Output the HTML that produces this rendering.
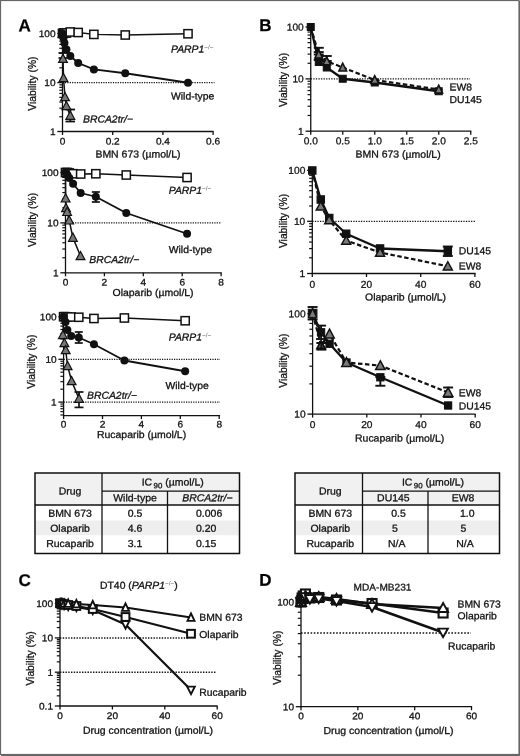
<!DOCTYPE html>
<html><head><meta charset="utf-8"><title>Figure</title>
<style>html,body{margin:0;padding:0;background:#fff}svg{display:block}</style></head>
<body>
<svg width="520" height="756" viewBox="0 0 520 756" font-family="Liberation Sans, sans-serif">
<style>text{stroke:#111;stroke-width:.28px}</style>
<rect x="0" y="0" width="520" height="756" fill="#fff"/>
<rect x="0.5" y="0.5" width="518.5" height="754" fill="none" stroke="#666" stroke-width="1.2"/>
<rect x="519" y="1" width="1.5" height="755" fill="#666"/>
<rect x="1" y="754.2" width="519" height="2" fill="#666"/>
<text transform="translate(18.6,31.2) rotate(.03)" font-size="17" font-weight="bold" fill="#000" >A</text>
<text transform="translate(259.2,31) rotate(.03)" font-size="17" font-weight="bold" fill="#000" >B</text>
<text transform="translate(18.4,586) rotate(.03)" font-size="17" font-weight="bold" fill="#000" >C</text>
<text transform="translate(259.2,585.7) rotate(.03)" font-size="17" font-weight="bold" fill="#000" >D</text>
<line x1="62.50" y1="82.60" x2="214.50" y2="82.60" stroke="#111" stroke-width="1.2" stroke-dasharray="1.2 1.2" stroke-linecap="butt"/>
<line x1="62.50" y1="32.90" x2="62.50" y2="132.10" stroke="#111" stroke-width="1.3" stroke-linecap="butt"/>
<line x1="61.90" y1="131.50" x2="213.60" y2="131.50" stroke="#111" stroke-width="1.3" stroke-linecap="butt"/>
<line x1="57.30" y1="33.50" x2="62.50" y2="33.50" stroke="#111" stroke-width="1.3" stroke-linecap="butt"/>
<text transform="translate(55.50,36.95) rotate(.03) scale(1.05,1)" font-size="9.6" text-anchor="end" fill="#111">100</text>
<line x1="57.30" y1="82.60" x2="62.50" y2="82.60" stroke="#111" stroke-width="1.3" stroke-linecap="butt"/>
<text transform="translate(55.50,86.05) rotate(.03) scale(1.05,1)" font-size="9.6" text-anchor="end" fill="#111">10</text>
<line x1="57.30" y1="131.50" x2="62.50" y2="131.50" stroke="#111" stroke-width="1.3" stroke-linecap="butt"/>
<text transform="translate(55.50,134.95) rotate(.03) scale(1.05,1)" font-size="9.6" text-anchor="end" fill="#111">1</text>
<line x1="59.30" y1="67.82" x2="62.50" y2="67.82" stroke="#111" stroke-width="1.2" stroke-linecap="butt"/>
<line x1="59.30" y1="59.17" x2="62.50" y2="59.17" stroke="#111" stroke-width="1.2" stroke-linecap="butt"/>
<line x1="59.30" y1="53.04" x2="62.50" y2="53.04" stroke="#111" stroke-width="1.2" stroke-linecap="butt"/>
<line x1="59.30" y1="48.28" x2="62.50" y2="48.28" stroke="#111" stroke-width="1.2" stroke-linecap="butt"/>
<line x1="59.30" y1="44.39" x2="62.50" y2="44.39" stroke="#111" stroke-width="1.2" stroke-linecap="butt"/>
<line x1="59.30" y1="41.11" x2="62.50" y2="41.11" stroke="#111" stroke-width="1.2" stroke-linecap="butt"/>
<line x1="59.30" y1="38.26" x2="62.50" y2="38.26" stroke="#111" stroke-width="1.2" stroke-linecap="butt"/>
<line x1="59.30" y1="35.75" x2="62.50" y2="35.75" stroke="#111" stroke-width="1.2" stroke-linecap="butt"/>
<line x1="59.30" y1="116.78" x2="62.50" y2="116.78" stroke="#111" stroke-width="1.2" stroke-linecap="butt"/>
<line x1="59.30" y1="108.17" x2="62.50" y2="108.17" stroke="#111" stroke-width="1.2" stroke-linecap="butt"/>
<line x1="59.30" y1="102.06" x2="62.50" y2="102.06" stroke="#111" stroke-width="1.2" stroke-linecap="butt"/>
<line x1="59.30" y1="97.32" x2="62.50" y2="97.32" stroke="#111" stroke-width="1.2" stroke-linecap="butt"/>
<line x1="59.30" y1="93.45" x2="62.50" y2="93.45" stroke="#111" stroke-width="1.2" stroke-linecap="butt"/>
<line x1="59.30" y1="90.17" x2="62.50" y2="90.17" stroke="#111" stroke-width="1.2" stroke-linecap="butt"/>
<line x1="59.30" y1="87.34" x2="62.50" y2="87.34" stroke="#111" stroke-width="1.2" stroke-linecap="butt"/>
<line x1="59.30" y1="84.84" x2="62.50" y2="84.84" stroke="#111" stroke-width="1.2" stroke-linecap="butt"/>
<line x1="62.50" y1="131.50" x2="62.50" y2="135.00" stroke="#111" stroke-width="1.3" stroke-linecap="butt"/>
<text transform="translate(62.50,144.40) rotate(.03) scale(1.05,1)" font-size="9.6" text-anchor="middle" fill="#111">0</text>
<line x1="112.70" y1="131.50" x2="112.70" y2="135.00" stroke="#111" stroke-width="1.3" stroke-linecap="butt"/>
<text transform="translate(112.70,144.40) rotate(.03) scale(1.05,1)" font-size="9.6" text-anchor="middle" fill="#111">0.2</text>
<line x1="162.90" y1="131.50" x2="162.90" y2="135.00" stroke="#111" stroke-width="1.3" stroke-linecap="butt"/>
<text transform="translate(162.90,144.40) rotate(.03) scale(1.05,1)" font-size="9.6" text-anchor="middle" fill="#111">0.4</text>
<line x1="213.10" y1="131.50" x2="213.10" y2="135.00" stroke="#111" stroke-width="1.3" stroke-linecap="butt"/>
<text transform="translate(213.10,144.40) rotate(.03) scale(1.05,1)" font-size="9.6" text-anchor="middle" fill="#111">0.6</text>
<text transform="translate(36,83.6) rotate(-90)" font-size="10.3" text-anchor="middle" fill="#111">Viability (%)</text>
<text transform="translate(138,157.5) rotate(.03) scale(1.035,1)" font-size="10.14" text-anchor="middle" fill="#111" >BMN 673 (µmol/L)</text>
<polyline points="62.50,33.50 63.48,33.00 64.46,33.00 66.42,33.00 70.34,32.00 78.19,32.50 93.88,34.40 125.25,35.00 188.00,33.75" fill="none" stroke="#111" stroke-width="1.4" stroke-linejoin="round"/>
<polyline points="62.50,33.50 63.48,38.00 64.46,43.00 66.42,49.50 70.34,56.00 78.19,63.00 93.88,69.40 125.25,73.25 188.00,82.75" fill="none" stroke="#111" stroke-width="1.8" stroke-linejoin="round"/>
<polyline points="62.50,33.50 63.00,58.75 63.50,78.00 65.00,97.00 66.40,106.00 70.30,115.60" fill="none" stroke="#111" stroke-width="1.5" stroke-linejoin="round"/>
<line x1="63.00" y1="53.00" x2="63.00" y2="58.00" stroke="#111" stroke-width="1.7" stroke-linecap="butt"/>
<line x1="58.50" y1="53.00" x2="67.50" y2="53.00" stroke="#111" stroke-width="1.7" stroke-linecap="butt"/>
<line x1="58.50" y1="58.00" x2="67.50" y2="58.00" stroke="#111" stroke-width="1.7" stroke-linecap="butt"/>
<line x1="70.30" y1="109.50" x2="70.30" y2="121.50" stroke="#111" stroke-width="1.8" stroke-linecap="butt"/>
<line x1="65.55" y1="109.50" x2="75.05" y2="109.50" stroke="#111" stroke-width="1.8" stroke-linecap="butt"/>
<line x1="65.55" y1="121.50" x2="75.05" y2="121.50" stroke="#111" stroke-width="1.8" stroke-linecap="butt"/>
<polygon points="62.50,28.99 58.10,37.19 66.90,37.19" fill="#777" stroke="#111" stroke-width="1.2" stroke-linejoin="miter"/>
<polygon points="63.00,54.24 58.60,62.44 67.40,62.44" fill="#777" stroke="#111" stroke-width="1.2" stroke-linejoin="miter"/>
<polygon points="63.50,73.49 59.10,81.69 67.90,81.69" fill="#777" stroke="#111" stroke-width="1.2" stroke-linejoin="miter"/>
<polygon points="65.00,92.49 60.60,100.69 69.40,100.69" fill="#777" stroke="#111" stroke-width="1.2" stroke-linejoin="miter"/>
<polygon points="66.40,101.49 62.00,109.69 70.80,109.69" fill="#777" stroke="#111" stroke-width="1.2" stroke-linejoin="miter"/>
<polygon points="70.30,111.09 65.90,119.29 74.70,119.29" fill="#777" stroke="#111" stroke-width="1.2" stroke-linejoin="miter"/>
<rect x="58.40" y="29.40" width="8.2" height="8.2" fill="#fff" stroke="#111" stroke-width="1.5"/>
<rect x="59.38" y="28.90" width="8.2" height="8.2" fill="#fff" stroke="#111" stroke-width="1.5"/>
<rect x="60.36" y="28.90" width="8.2" height="8.2" fill="#fff" stroke="#111" stroke-width="1.5"/>
<rect x="62.32" y="28.90" width="8.2" height="8.2" fill="#fff" stroke="#111" stroke-width="1.5"/>
<rect x="66.24" y="27.90" width="8.2" height="8.2" fill="#fff" stroke="#111" stroke-width="1.5"/>
<rect x="74.09" y="28.40" width="8.2" height="8.2" fill="#fff" stroke="#111" stroke-width="1.5"/>
<rect x="89.78" y="30.30" width="8.2" height="8.2" fill="#fff" stroke="#111" stroke-width="1.5"/>
<rect x="121.15" y="30.90" width="8.2" height="8.2" fill="#fff" stroke="#111" stroke-width="1.5"/>
<rect x="183.90" y="29.65" width="8.2" height="8.2" fill="#fff" stroke="#111" stroke-width="1.5"/>
<circle cx="62.50" cy="33.50" r="4" fill="#111"/>
<circle cx="63.48" cy="38.00" r="4" fill="#111"/>
<circle cx="64.46" cy="43.00" r="4" fill="#111"/>
<circle cx="66.42" cy="49.50" r="4" fill="#111"/>
<circle cx="70.34" cy="56.00" r="4" fill="#111"/>
<circle cx="78.19" cy="63.00" r="4" fill="#111"/>
<circle cx="93.88" cy="69.40" r="4" fill="#111"/>
<circle cx="125.25" cy="73.25" r="4" fill="#111"/>
<circle cx="188.00" cy="82.75" r="4" fill="#111"/>
<text transform="translate(171,52.5) rotate(.03) scale(1.035,1)" font-size="10.05" fill="#111" text-anchor="start"><tspan font-style="italic">PARP1</tspan><tspan font-size="6.2" dy="-3.3" fill="#666" stroke="none">−/−</tspan><tspan dy="3.3"></tspan></text>
<text transform="translate(171,99.5) rotate(.03) scale(1.035,1)" font-size="10.05" fill="#111" >Wild-type</text>
<text transform="translate(83,122.5) rotate(.03) scale(1.035,1)" font-size="10.05" font-style="italic" fill="#111" >BRCA2tr/−</text>
<line x1="65.50" y1="222.90" x2="220.50" y2="222.90" stroke="#111" stroke-width="1.2" stroke-dasharray="1.2 1.2" stroke-linecap="butt"/>
<line x1="65.50" y1="171.90" x2="65.50" y2="273.40" stroke="#111" stroke-width="1.3" stroke-linecap="butt"/>
<line x1="64.90" y1="272.80" x2="221.70" y2="272.80" stroke="#111" stroke-width="1.3" stroke-linecap="butt"/>
<line x1="60.30" y1="172.50" x2="65.50" y2="172.50" stroke="#111" stroke-width="1.3" stroke-linecap="butt"/>
<text transform="translate(58.50,175.95) rotate(.03) scale(1.05,1)" font-size="9.6" text-anchor="end" fill="#111">100</text>
<line x1="60.30" y1="222.90" x2="65.50" y2="222.90" stroke="#111" stroke-width="1.3" stroke-linecap="butt"/>
<text transform="translate(58.50,226.35) rotate(.03) scale(1.05,1)" font-size="9.6" text-anchor="end" fill="#111">10</text>
<line x1="60.30" y1="272.80" x2="65.50" y2="272.80" stroke="#111" stroke-width="1.3" stroke-linecap="butt"/>
<text transform="translate(58.50,276.25) rotate(.03) scale(1.05,1)" font-size="9.6" text-anchor="end" fill="#111">1</text>
<line x1="62.30" y1="207.73" x2="65.50" y2="207.73" stroke="#111" stroke-width="1.2" stroke-linecap="butt"/>
<line x1="62.30" y1="198.85" x2="65.50" y2="198.85" stroke="#111" stroke-width="1.2" stroke-linecap="butt"/>
<line x1="62.30" y1="192.56" x2="65.50" y2="192.56" stroke="#111" stroke-width="1.2" stroke-linecap="butt"/>
<line x1="62.30" y1="187.67" x2="65.50" y2="187.67" stroke="#111" stroke-width="1.2" stroke-linecap="butt"/>
<line x1="62.30" y1="183.68" x2="65.50" y2="183.68" stroke="#111" stroke-width="1.2" stroke-linecap="butt"/>
<line x1="62.30" y1="180.31" x2="65.50" y2="180.31" stroke="#111" stroke-width="1.2" stroke-linecap="butt"/>
<line x1="62.30" y1="177.38" x2="65.50" y2="177.38" stroke="#111" stroke-width="1.2" stroke-linecap="butt"/>
<line x1="62.30" y1="174.81" x2="65.50" y2="174.81" stroke="#111" stroke-width="1.2" stroke-linecap="butt"/>
<line x1="62.30" y1="257.78" x2="65.50" y2="257.78" stroke="#111" stroke-width="1.2" stroke-linecap="butt"/>
<line x1="62.30" y1="248.99" x2="65.50" y2="248.99" stroke="#111" stroke-width="1.2" stroke-linecap="butt"/>
<line x1="62.30" y1="242.76" x2="65.50" y2="242.76" stroke="#111" stroke-width="1.2" stroke-linecap="butt"/>
<line x1="62.30" y1="237.92" x2="65.50" y2="237.92" stroke="#111" stroke-width="1.2" stroke-linecap="butt"/>
<line x1="62.30" y1="233.97" x2="65.50" y2="233.97" stroke="#111" stroke-width="1.2" stroke-linecap="butt"/>
<line x1="62.30" y1="230.63" x2="65.50" y2="230.63" stroke="#111" stroke-width="1.2" stroke-linecap="butt"/>
<line x1="62.30" y1="227.74" x2="65.50" y2="227.74" stroke="#111" stroke-width="1.2" stroke-linecap="butt"/>
<line x1="62.30" y1="225.18" x2="65.50" y2="225.18" stroke="#111" stroke-width="1.2" stroke-linecap="butt"/>
<line x1="65.50" y1="272.80" x2="65.50" y2="276.30" stroke="#111" stroke-width="1.3" stroke-linecap="butt"/>
<text transform="translate(65.50,285.40) rotate(.03) scale(1.05,1)" font-size="9.6" text-anchor="middle" fill="#111">0</text>
<line x1="104.40" y1="272.80" x2="104.40" y2="276.30" stroke="#111" stroke-width="1.3" stroke-linecap="butt"/>
<text transform="translate(104.40,285.40) rotate(.03) scale(1.05,1)" font-size="9.6" text-anchor="middle" fill="#111">2</text>
<line x1="143.30" y1="272.80" x2="143.30" y2="276.30" stroke="#111" stroke-width="1.3" stroke-linecap="butt"/>
<text transform="translate(143.30,285.40) rotate(.03) scale(1.05,1)" font-size="9.6" text-anchor="middle" fill="#111">4</text>
<line x1="182.20" y1="272.80" x2="182.20" y2="276.30" stroke="#111" stroke-width="1.3" stroke-linecap="butt"/>
<text transform="translate(182.20,285.40) rotate(.03) scale(1.05,1)" font-size="9.6" text-anchor="middle" fill="#111">6</text>
<line x1="221.10" y1="272.80" x2="221.10" y2="276.30" stroke="#111" stroke-width="1.3" stroke-linecap="butt"/>
<text transform="translate(221.10,285.40) rotate(.03) scale(1.05,1)" font-size="9.6" text-anchor="middle" fill="#111">8</text>
<text transform="translate(35.5,220) rotate(-90)" font-size="10.3" text-anchor="middle" fill="#111">Viability (%)</text>
<text transform="translate(112.5,296) rotate(.03) scale(1.035,1)" font-size="10.14" fill="#111" >Olaparib (µmol/L)</text>
<polyline points="65.50,172.50 67.40,172.50 69.29,173.00 73.09,173.75 80.67,174.00 95.84,173.75 126.28,175.00 187.06,177.50" fill="none" stroke="#111" stroke-width="1.4" stroke-linejoin="round"/>
<polyline points="65.50,172.50 67.40,175.00 69.29,178.00 73.09,183.75 80.67,193.00 95.84,196.75 126.28,213.00 187.06,233.75" fill="none" stroke="#111" stroke-width="1.8" stroke-linejoin="round"/>
<polyline points="65.50,172.50 65.60,198.30 66.00,208.00 67.10,211.80 69.20,220.30 72.90,237.60 80.50,256.00" fill="none" stroke="#111" stroke-width="1.5" stroke-linejoin="round"/>
<line x1="95.84" y1="192.00" x2="95.84" y2="202.00" stroke="#111" stroke-width="1.7" stroke-linecap="butt"/>
<line x1="91.84" y1="192.00" x2="99.84" y2="192.00" stroke="#111" stroke-width="1.7" stroke-linecap="butt"/>
<line x1="91.84" y1="202.00" x2="99.84" y2="202.00" stroke="#111" stroke-width="1.7" stroke-linecap="butt"/>
<polygon points="65.60,193.79 61.20,201.99 70.00,201.99" fill="#777" stroke="#111" stroke-width="1.2" stroke-linejoin="miter"/>
<polygon points="66.00,203.49 61.60,211.69 70.40,211.69" fill="#777" stroke="#111" stroke-width="1.2" stroke-linejoin="miter"/>
<polygon points="67.10,207.29 62.70,215.49 71.50,215.49" fill="#777" stroke="#111" stroke-width="1.2" stroke-linejoin="miter"/>
<polygon points="69.20,215.79 64.80,223.99 73.60,223.99" fill="#777" stroke="#111" stroke-width="1.2" stroke-linejoin="miter"/>
<polygon points="72.90,233.09 68.50,241.29 77.30,241.29" fill="#777" stroke="#111" stroke-width="1.2" stroke-linejoin="miter"/>
<polygon points="80.50,251.49 76.10,259.69 84.90,259.69" fill="#777" stroke="#111" stroke-width="1.2" stroke-linejoin="miter"/>
<rect x="61.40" y="168.40" width="8.2" height="8.2" fill="#fff" stroke="#111" stroke-width="1.5"/>
<rect x="63.30" y="168.40" width="8.2" height="8.2" fill="#fff" stroke="#111" stroke-width="1.5"/>
<rect x="65.19" y="168.90" width="8.2" height="8.2" fill="#fff" stroke="#111" stroke-width="1.5"/>
<rect x="68.99" y="169.65" width="8.2" height="8.2" fill="#fff" stroke="#111" stroke-width="1.5"/>
<rect x="76.57" y="169.90" width="8.2" height="8.2" fill="#fff" stroke="#111" stroke-width="1.5"/>
<rect x="91.74" y="169.65" width="8.2" height="8.2" fill="#fff" stroke="#111" stroke-width="1.5"/>
<rect x="122.18" y="170.90" width="8.2" height="8.2" fill="#fff" stroke="#111" stroke-width="1.5"/>
<rect x="182.96" y="173.40" width="8.2" height="8.2" fill="#fff" stroke="#111" stroke-width="1.5"/>
<circle cx="65.50" cy="172.50" r="4" fill="#111"/>
<circle cx="67.40" cy="175.00" r="4" fill="#111"/>
<circle cx="69.29" cy="178.00" r="4" fill="#111"/>
<circle cx="73.09" cy="183.75" r="4" fill="#111"/>
<circle cx="80.67" cy="193.00" r="4" fill="#111"/>
<circle cx="95.84" cy="196.75" r="4" fill="#111"/>
<circle cx="126.28" cy="213.00" r="4" fill="#111"/>
<circle cx="187.06" cy="233.75" r="4" fill="#111"/>
<text transform="translate(168.75,193.75) rotate(.03) scale(1.035,1)" font-size="10.05" fill="#111" text-anchor="start"><tspan font-style="italic">PARP1</tspan><tspan font-size="6.2" dy="-3.3" fill="#666" stroke="none">−/−</tspan><tspan dy="3.3"></tspan></text>
<text transform="translate(168.75,253) rotate(.03) scale(1.035,1)" font-size="10.05" fill="#111" >Wild-type</text>
<text transform="translate(89.25,263) rotate(.03) scale(1.035,1)" font-size="10.05" font-style="italic" fill="#111" >BRCA2tr/−</text>
<line x1="63.60" y1="359.30" x2="220.00" y2="359.30" stroke="#111" stroke-width="1.2" stroke-dasharray="1.2 1.2" stroke-linecap="butt"/>
<line x1="63.60" y1="402.10" x2="220.00" y2="402.10" stroke="#111" stroke-width="1.2" stroke-dasharray="1.2 1.2" stroke-linecap="butt"/>
<line x1="63.60" y1="316.10" x2="63.60" y2="416.20" stroke="#111" stroke-width="1.3" stroke-linecap="butt"/>
<line x1="63.00" y1="415.60" x2="220.10" y2="415.60" stroke="#111" stroke-width="1.3" stroke-linecap="butt"/>
<line x1="58.40" y1="316.70" x2="63.60" y2="316.70" stroke="#111" stroke-width="1.3" stroke-linecap="butt"/>
<text transform="translate(56.60,320.15) rotate(.03) scale(1.05,1)" font-size="9.6" text-anchor="end" fill="#111">100</text>
<line x1="58.40" y1="359.30" x2="63.60" y2="359.30" stroke="#111" stroke-width="1.3" stroke-linecap="butt"/>
<text transform="translate(56.60,362.75) rotate(.03) scale(1.05,1)" font-size="9.6" text-anchor="end" fill="#111">10</text>
<line x1="58.40" y1="402.10" x2="63.60" y2="402.10" stroke="#111" stroke-width="1.3" stroke-linecap="butt"/>
<text transform="translate(56.60,405.55) rotate(.03) scale(1.05,1)" font-size="9.6" text-anchor="end" fill="#111">1</text>
<line x1="60.40" y1="346.48" x2="63.60" y2="346.48" stroke="#111" stroke-width="1.2" stroke-linecap="butt"/>
<line x1="60.40" y1="338.97" x2="63.60" y2="338.97" stroke="#111" stroke-width="1.2" stroke-linecap="butt"/>
<line x1="60.40" y1="333.65" x2="63.60" y2="333.65" stroke="#111" stroke-width="1.2" stroke-linecap="butt"/>
<line x1="60.40" y1="329.52" x2="63.60" y2="329.52" stroke="#111" stroke-width="1.2" stroke-linecap="butt"/>
<line x1="60.40" y1="326.15" x2="63.60" y2="326.15" stroke="#111" stroke-width="1.2" stroke-linecap="butt"/>
<line x1="60.40" y1="323.30" x2="63.60" y2="323.30" stroke="#111" stroke-width="1.2" stroke-linecap="butt"/>
<line x1="60.40" y1="320.83" x2="63.60" y2="320.83" stroke="#111" stroke-width="1.2" stroke-linecap="butt"/>
<line x1="60.40" y1="318.65" x2="63.60" y2="318.65" stroke="#111" stroke-width="1.2" stroke-linecap="butt"/>
<line x1="60.40" y1="389.22" x2="63.60" y2="389.22" stroke="#111" stroke-width="1.2" stroke-linecap="butt"/>
<line x1="60.40" y1="381.68" x2="63.60" y2="381.68" stroke="#111" stroke-width="1.2" stroke-linecap="butt"/>
<line x1="60.40" y1="376.33" x2="63.60" y2="376.33" stroke="#111" stroke-width="1.2" stroke-linecap="butt"/>
<line x1="60.40" y1="372.18" x2="63.60" y2="372.18" stroke="#111" stroke-width="1.2" stroke-linecap="butt"/>
<line x1="60.40" y1="368.80" x2="63.60" y2="368.80" stroke="#111" stroke-width="1.2" stroke-linecap="butt"/>
<line x1="60.40" y1="365.93" x2="63.60" y2="365.93" stroke="#111" stroke-width="1.2" stroke-linecap="butt"/>
<line x1="60.40" y1="363.45" x2="63.60" y2="363.45" stroke="#111" stroke-width="1.2" stroke-linecap="butt"/>
<line x1="60.40" y1="361.26" x2="63.60" y2="361.26" stroke="#111" stroke-width="1.2" stroke-linecap="butt"/>
<line x1="60.40" y1="414.98" x2="63.60" y2="414.98" stroke="#111" stroke-width="1.2" stroke-linecap="butt"/>
<line x1="60.40" y1="411.60" x2="63.60" y2="411.60" stroke="#111" stroke-width="1.2" stroke-linecap="butt"/>
<line x1="60.40" y1="408.73" x2="63.60" y2="408.73" stroke="#111" stroke-width="1.2" stroke-linecap="butt"/>
<line x1="60.40" y1="406.25" x2="63.60" y2="406.25" stroke="#111" stroke-width="1.2" stroke-linecap="butt"/>
<line x1="60.40" y1="404.06" x2="63.60" y2="404.06" stroke="#111" stroke-width="1.2" stroke-linecap="butt"/>
<line x1="63.60" y1="415.60" x2="63.60" y2="419.10" stroke="#111" stroke-width="1.3" stroke-linecap="butt"/>
<text transform="translate(63.60,427.50) rotate(.03) scale(1.05,1)" font-size="9.6" text-anchor="middle" fill="#111">0</text>
<line x1="102.50" y1="415.60" x2="102.50" y2="419.10" stroke="#111" stroke-width="1.3" stroke-linecap="butt"/>
<text transform="translate(102.50,427.50) rotate(.03) scale(1.05,1)" font-size="9.6" text-anchor="middle" fill="#111">2</text>
<line x1="141.40" y1="415.60" x2="141.40" y2="419.10" stroke="#111" stroke-width="1.3" stroke-linecap="butt"/>
<text transform="translate(141.40,427.50) rotate(.03) scale(1.05,1)" font-size="9.6" text-anchor="middle" fill="#111">4</text>
<line x1="180.30" y1="415.60" x2="180.30" y2="419.10" stroke="#111" stroke-width="1.3" stroke-linecap="butt"/>
<text transform="translate(180.30,427.50) rotate(.03) scale(1.05,1)" font-size="9.6" text-anchor="middle" fill="#111">6</text>
<line x1="219.20" y1="415.60" x2="219.20" y2="419.10" stroke="#111" stroke-width="1.3" stroke-linecap="butt"/>
<text transform="translate(219.20,427.50) rotate(.03) scale(1.05,1)" font-size="9.6" text-anchor="middle" fill="#111">8</text>
<text transform="translate(35,361.7) rotate(-90)" font-size="10.3" text-anchor="middle" fill="#111">Viability (%)</text>
<text transform="translate(141.5,438) rotate(.03) scale(1.035,1)" font-size="10.14" text-anchor="middle" fill="#111" >Rucaparib (µmol/L)</text>
<polyline points="63.60,316.70 65.50,316.70 67.39,317.00 71.19,317.00 78.77,317.25 93.94,318.50 124.38,318.00 185.16,320.75" fill="none" stroke="#111" stroke-width="1.4" stroke-linejoin="round"/>
<polyline points="63.60,316.70 65.50,322.00 67.39,330.00 71.19,336.00 78.77,337.50 93.94,344.25 124.38,360.50 185.16,371.25" fill="none" stroke="#111" stroke-width="1.8" stroke-linejoin="round"/>
<polyline points="63.60,316.70 62.90,335.00 64.40,343.00 65.70,350.00 67.60,366.00 71.60,381.00 79.00,398.60" fill="none" stroke="#111" stroke-width="1.5" stroke-linejoin="round"/>
<line x1="78.77" y1="332.00" x2="78.77" y2="343.00" stroke="#111" stroke-width="1.7" stroke-linecap="butt"/>
<line x1="74.77" y1="332.00" x2="82.77" y2="332.00" stroke="#111" stroke-width="1.7" stroke-linecap="butt"/>
<line x1="74.77" y1="343.00" x2="82.77" y2="343.00" stroke="#111" stroke-width="1.7" stroke-linecap="butt"/>
<line x1="79.00" y1="392.00" x2="79.00" y2="407.40" stroke="#111" stroke-width="1.7" stroke-linecap="butt"/>
<line x1="74.50" y1="392.00" x2="83.50" y2="392.00" stroke="#111" stroke-width="1.7" stroke-linecap="butt"/>
<line x1="74.50" y1="407.40" x2="83.50" y2="407.40" stroke="#111" stroke-width="1.7" stroke-linecap="butt"/>
<polygon points="62.90,330.49 58.50,338.69 67.30,338.69" fill="#777" stroke="#111" stroke-width="1.2" stroke-linejoin="miter"/>
<polygon points="64.40,338.49 60.00,346.69 68.80,346.69" fill="#777" stroke="#111" stroke-width="1.2" stroke-linejoin="miter"/>
<polygon points="65.70,345.49 61.30,353.69 70.10,353.69" fill="#777" stroke="#111" stroke-width="1.2" stroke-linejoin="miter"/>
<polygon points="67.60,361.49 63.20,369.69 72.00,369.69" fill="#777" stroke="#111" stroke-width="1.2" stroke-linejoin="miter"/>
<polygon points="71.60,376.49 67.20,384.69 76.00,384.69" fill="#777" stroke="#111" stroke-width="1.2" stroke-linejoin="miter"/>
<polygon points="79.00,394.09 74.60,402.29 83.40,402.29" fill="#777" stroke="#111" stroke-width="1.2" stroke-linejoin="miter"/>
<rect x="59.50" y="312.60" width="8.2" height="8.2" fill="#fff" stroke="#111" stroke-width="1.5"/>
<rect x="61.40" y="312.60" width="8.2" height="8.2" fill="#fff" stroke="#111" stroke-width="1.5"/>
<rect x="63.29" y="312.90" width="8.2" height="8.2" fill="#fff" stroke="#111" stroke-width="1.5"/>
<rect x="67.09" y="312.90" width="8.2" height="8.2" fill="#fff" stroke="#111" stroke-width="1.5"/>
<rect x="74.67" y="313.15" width="8.2" height="8.2" fill="#fff" stroke="#111" stroke-width="1.5"/>
<rect x="89.84" y="314.40" width="8.2" height="8.2" fill="#fff" stroke="#111" stroke-width="1.5"/>
<rect x="120.28" y="313.90" width="8.2" height="8.2" fill="#fff" stroke="#111" stroke-width="1.5"/>
<rect x="181.06" y="316.65" width="8.2" height="8.2" fill="#fff" stroke="#111" stroke-width="1.5"/>
<circle cx="63.60" cy="316.70" r="4" fill="#111"/>
<circle cx="65.50" cy="322.00" r="4" fill="#111"/>
<circle cx="67.39" cy="330.00" r="4" fill="#111"/>
<circle cx="71.19" cy="336.00" r="4" fill="#111"/>
<circle cx="78.77" cy="337.50" r="4" fill="#111"/>
<circle cx="93.94" cy="344.25" r="4" fill="#111"/>
<circle cx="124.38" cy="360.50" r="4" fill="#111"/>
<circle cx="185.16" cy="371.25" r="4" fill="#111"/>
<text transform="translate(168.75,340.5) rotate(.03) scale(1.035,1)" font-size="10.05" fill="#111" text-anchor="start"><tspan font-style="italic">PARP1</tspan><tspan font-size="6.2" dy="-3.3" fill="#666" stroke="none">−/−</tspan><tspan dy="3.3"></tspan></text>
<text transform="translate(165.5,389) rotate(.03) scale(1.035,1)" font-size="10.05" fill="#111" >Wild-type</text>
<text transform="translate(87,398.75) rotate(.03) scale(1.035,1)" font-size="10.05" font-style="italic" fill="#111" >BRCA2tr/−</text>
<line x1="310.75" y1="78.90" x2="470.00" y2="78.90" stroke="#111" stroke-width="1.35" stroke-dasharray="1.3 1.26" stroke-linecap="butt"/>
<line x1="310.75" y1="26.40" x2="310.75" y2="131.80" stroke="#111" stroke-width="1.3" stroke-linecap="butt"/>
<line x1="310.15" y1="131.20" x2="471.35" y2="131.20" stroke="#111" stroke-width="1.3" stroke-linecap="butt"/>
<line x1="305.55" y1="27.00" x2="310.75" y2="27.00" stroke="#111" stroke-width="1.3" stroke-linecap="butt"/>
<text transform="translate(303.75,30.45) rotate(.03) scale(1.03,1)" font-size="9.9" text-anchor="end" fill="#111">100</text>
<line x1="305.55" y1="78.90" x2="310.75" y2="78.90" stroke="#111" stroke-width="1.3" stroke-linecap="butt"/>
<text transform="translate(303.75,82.35) rotate(.03) scale(1.03,1)" font-size="9.9" text-anchor="end" fill="#111">10</text>
<line x1="305.55" y1="131.20" x2="310.75" y2="131.20" stroke="#111" stroke-width="1.3" stroke-linecap="butt"/>
<text transform="translate(303.75,134.65) rotate(.03) scale(1.03,1)" font-size="9.9" text-anchor="end" fill="#111">1</text>
<line x1="307.55" y1="63.28" x2="310.75" y2="63.28" stroke="#111" stroke-width="1.2" stroke-linecap="butt"/>
<line x1="307.55" y1="54.14" x2="310.75" y2="54.14" stroke="#111" stroke-width="1.2" stroke-linecap="butt"/>
<line x1="307.55" y1="47.65" x2="310.75" y2="47.65" stroke="#111" stroke-width="1.2" stroke-linecap="butt"/>
<line x1="307.55" y1="42.62" x2="310.75" y2="42.62" stroke="#111" stroke-width="1.2" stroke-linecap="butt"/>
<line x1="307.55" y1="38.51" x2="310.75" y2="38.51" stroke="#111" stroke-width="1.2" stroke-linecap="butt"/>
<line x1="307.55" y1="35.04" x2="310.75" y2="35.04" stroke="#111" stroke-width="1.2" stroke-linecap="butt"/>
<line x1="307.55" y1="32.03" x2="310.75" y2="32.03" stroke="#111" stroke-width="1.2" stroke-linecap="butt"/>
<line x1="307.55" y1="29.37" x2="310.75" y2="29.37" stroke="#111" stroke-width="1.2" stroke-linecap="butt"/>
<line x1="307.55" y1="115.46" x2="310.75" y2="115.46" stroke="#111" stroke-width="1.2" stroke-linecap="butt"/>
<line x1="307.55" y1="106.25" x2="310.75" y2="106.25" stroke="#111" stroke-width="1.2" stroke-linecap="butt"/>
<line x1="307.55" y1="99.71" x2="310.75" y2="99.71" stroke="#111" stroke-width="1.2" stroke-linecap="butt"/>
<line x1="307.55" y1="94.64" x2="310.75" y2="94.64" stroke="#111" stroke-width="1.2" stroke-linecap="butt"/>
<line x1="307.55" y1="90.50" x2="310.75" y2="90.50" stroke="#111" stroke-width="1.2" stroke-linecap="butt"/>
<line x1="307.55" y1="87.00" x2="310.75" y2="87.00" stroke="#111" stroke-width="1.2" stroke-linecap="butt"/>
<line x1="307.55" y1="83.97" x2="310.75" y2="83.97" stroke="#111" stroke-width="1.2" stroke-linecap="butt"/>
<line x1="307.55" y1="81.29" x2="310.75" y2="81.29" stroke="#111" stroke-width="1.2" stroke-linecap="butt"/>
<line x1="310.75" y1="131.20" x2="310.75" y2="134.70" stroke="#111" stroke-width="1.3" stroke-linecap="butt"/>
<text transform="translate(310.75,144.30) rotate(.03) scale(1.03,1)" font-size="9.9" text-anchor="middle" fill="#111">0.0</text>
<line x1="342.75" y1="131.20" x2="342.75" y2="134.70" stroke="#111" stroke-width="1.3" stroke-linecap="butt"/>
<text transform="translate(342.75,144.30) rotate(.03) scale(1.03,1)" font-size="9.9" text-anchor="middle" fill="#111">0.5</text>
<line x1="374.75" y1="131.20" x2="374.75" y2="134.70" stroke="#111" stroke-width="1.3" stroke-linecap="butt"/>
<text transform="translate(374.75,144.30) rotate(.03) scale(1.03,1)" font-size="9.9" text-anchor="middle" fill="#111">1.0</text>
<line x1="406.75" y1="131.20" x2="406.75" y2="134.70" stroke="#111" stroke-width="1.3" stroke-linecap="butt"/>
<text transform="translate(406.75,144.30) rotate(.03) scale(1.03,1)" font-size="9.9" text-anchor="middle" fill="#111">1.5</text>
<line x1="438.75" y1="131.20" x2="438.75" y2="134.70" stroke="#111" stroke-width="1.3" stroke-linecap="butt"/>
<text transform="translate(438.75,144.30) rotate(.03) scale(1.03,1)" font-size="9.9" text-anchor="middle" fill="#111">2.0</text>
<line x1="470.75" y1="131.20" x2="470.75" y2="134.70" stroke="#111" stroke-width="1.3" stroke-linecap="butt"/>
<text transform="translate(470.75,144.30) rotate(.03) scale(1.03,1)" font-size="9.9" text-anchor="middle" fill="#111">2.5</text>
<text transform="translate(287,80) rotate(-90)" font-size="10.3" text-anchor="middle" fill="#111">Viability (%)</text>
<text transform="translate(355.5,157.6) rotate(.03) scale(1.035,1)" font-size="10.14" fill="#111" >BMN 673 (µmol/L)</text>
<polyline points="310.75,27.00 318.75,62.00 326.75,67.50 342.75,78.75 374.75,82.50 438.75,91.25" fill="none" stroke="#111" stroke-width="2.3" stroke-linejoin="round"/>
<polyline points="310.75,27.00 318.75,54.50 326.75,61.25 342.75,67.50 374.75,80.00 438.75,89.50" fill="none" stroke="#111" stroke-width="2.2" stroke-dasharray="4.5 2.5" stroke-linejoin="round"/>
<line x1="318.75" y1="47.80" x2="318.75" y2="54.50" stroke="#111" stroke-width="1.9" stroke-linecap="butt"/>
<line x1="313.75" y1="47.80" x2="323.75" y2="47.80" stroke="#111" stroke-width="1.9" stroke-linecap="butt"/>
<line x1="313.75" y1="54.50" x2="323.75" y2="54.50" stroke="#111" stroke-width="1.9" stroke-linecap="butt"/>
<line x1="318.75" y1="52.10" x2="318.75" y2="60.00" stroke="#111" stroke-width="1.9" stroke-linecap="butt"/>
<line x1="313.75" y1="52.10" x2="323.75" y2="52.10" stroke="#111" stroke-width="1.9" stroke-linecap="butt"/>
<line x1="313.75" y1="60.00" x2="323.75" y2="60.00" stroke="#111" stroke-width="1.9" stroke-linecap="butt"/>
<line x1="326.75" y1="56.00" x2="326.75" y2="61.00" stroke="#111" stroke-width="1.9" stroke-linecap="butt"/>
<line x1="321.75" y1="56.00" x2="331.75" y2="56.00" stroke="#111" stroke-width="1.9" stroke-linecap="butt"/>
<line x1="321.75" y1="61.00" x2="331.75" y2="61.00" stroke="#111" stroke-width="1.9" stroke-linecap="butt"/>
<rect x="307.30" y="23.55" width="6.9" height="6.9" fill="#111" stroke="#111" stroke-width="1.1"/>
<rect x="315.30" y="58.55" width="6.9" height="6.9" fill="#111" stroke="#111" stroke-width="1.1"/>
<rect x="323.30" y="64.05" width="6.9" height="6.9" fill="#111" stroke="#111" stroke-width="1.1"/>
<rect x="339.30" y="75.30" width="6.9" height="6.9" fill="#111" stroke="#111" stroke-width="1.1"/>
<rect x="371.30" y="79.05" width="6.9" height="6.9" fill="#111" stroke="#111" stroke-width="1.1"/>
<rect x="435.30" y="87.80" width="6.9" height="6.9" fill="#111" stroke="#111" stroke-width="1.1"/>
<polygon points="318.75,50.21 314.95,58.01 322.55,58.01" fill="#7a7a7a" stroke="#111" stroke-width="1.6" stroke-linejoin="miter"/>
<polygon points="326.75,56.96 322.95,64.76 330.55,64.76" fill="#7a7a7a" stroke="#111" stroke-width="1.6" stroke-linejoin="miter"/>
<polygon points="342.75,63.21 338.95,71.01 346.55,71.01" fill="#7a7a7a" stroke="#111" stroke-width="1.6" stroke-linejoin="miter"/>
<polygon points="374.75,75.71 370.95,83.51 378.55,83.51" fill="#7a7a7a" stroke="#111" stroke-width="1.6" stroke-linejoin="miter"/>
<polygon points="438.75,85.21 434.95,93.01 442.55,93.01" fill="#7a7a7a" stroke="#111" stroke-width="1.6" stroke-linejoin="miter"/>
<text transform="translate(449.5,90.5) rotate(.03) scale(1.035,1)" font-size="10.05" fill="#111" >EW8</text>
<text transform="translate(449.5,103) rotate(.03) scale(1.035,1)" font-size="10.05" fill="#111" >DU145</text>
<line x1="312.30" y1="221.30" x2="475.00" y2="221.30" stroke="#111" stroke-width="1.35" stroke-dasharray="1.3 1.26" stroke-linecap="butt"/>
<line x1="312.30" y1="169.80" x2="312.30" y2="274.10" stroke="#111" stroke-width="1.3" stroke-linecap="butt"/>
<line x1="311.70" y1="273.50" x2="475.60" y2="273.50" stroke="#111" stroke-width="1.3" stroke-linecap="butt"/>
<line x1="307.10" y1="170.40" x2="312.30" y2="170.40" stroke="#111" stroke-width="1.3" stroke-linecap="butt"/>
<text transform="translate(305.30,173.85) rotate(.03) scale(1.03,1)" font-size="9.9" text-anchor="end" fill="#111">100</text>
<line x1="307.10" y1="221.30" x2="312.30" y2="221.30" stroke="#111" stroke-width="1.3" stroke-linecap="butt"/>
<text transform="translate(305.30,224.75) rotate(.03) scale(1.03,1)" font-size="9.9" text-anchor="end" fill="#111">10</text>
<line x1="307.10" y1="273.50" x2="312.30" y2="273.50" stroke="#111" stroke-width="1.3" stroke-linecap="butt"/>
<text transform="translate(305.30,276.95) rotate(.03) scale(1.03,1)" font-size="9.9" text-anchor="end" fill="#111">1</text>
<line x1="309.10" y1="205.98" x2="312.30" y2="205.98" stroke="#111" stroke-width="1.2" stroke-linecap="butt"/>
<line x1="309.10" y1="197.01" x2="312.30" y2="197.01" stroke="#111" stroke-width="1.2" stroke-linecap="butt"/>
<line x1="309.10" y1="190.66" x2="312.30" y2="190.66" stroke="#111" stroke-width="1.2" stroke-linecap="butt"/>
<line x1="309.10" y1="185.72" x2="312.30" y2="185.72" stroke="#111" stroke-width="1.2" stroke-linecap="butt"/>
<line x1="309.10" y1="181.69" x2="312.30" y2="181.69" stroke="#111" stroke-width="1.2" stroke-linecap="butt"/>
<line x1="309.10" y1="178.28" x2="312.30" y2="178.28" stroke="#111" stroke-width="1.2" stroke-linecap="butt"/>
<line x1="309.10" y1="175.33" x2="312.30" y2="175.33" stroke="#111" stroke-width="1.2" stroke-linecap="butt"/>
<line x1="309.10" y1="172.73" x2="312.30" y2="172.73" stroke="#111" stroke-width="1.2" stroke-linecap="butt"/>
<line x1="309.10" y1="257.79" x2="312.30" y2="257.79" stroke="#111" stroke-width="1.2" stroke-linecap="butt"/>
<line x1="309.10" y1="248.59" x2="312.30" y2="248.59" stroke="#111" stroke-width="1.2" stroke-linecap="butt"/>
<line x1="309.10" y1="242.07" x2="312.30" y2="242.07" stroke="#111" stroke-width="1.2" stroke-linecap="butt"/>
<line x1="309.10" y1="237.01" x2="312.30" y2="237.01" stroke="#111" stroke-width="1.2" stroke-linecap="butt"/>
<line x1="309.10" y1="232.88" x2="312.30" y2="232.88" stroke="#111" stroke-width="1.2" stroke-linecap="butt"/>
<line x1="309.10" y1="229.39" x2="312.30" y2="229.39" stroke="#111" stroke-width="1.2" stroke-linecap="butt"/>
<line x1="309.10" y1="226.36" x2="312.30" y2="226.36" stroke="#111" stroke-width="1.2" stroke-linecap="butt"/>
<line x1="309.10" y1="223.69" x2="312.30" y2="223.69" stroke="#111" stroke-width="1.2" stroke-linecap="butt"/>
<line x1="312.30" y1="273.50" x2="312.30" y2="277.00" stroke="#111" stroke-width="1.3" stroke-linecap="butt"/>
<text transform="translate(312.30,287.70) rotate(.03) scale(1.03,1)" font-size="9.9" text-anchor="middle" fill="#111">0</text>
<line x1="366.50" y1="273.50" x2="366.50" y2="277.00" stroke="#111" stroke-width="1.3" stroke-linecap="butt"/>
<text transform="translate(366.50,287.70) rotate(.03) scale(1.03,1)" font-size="9.9" text-anchor="middle" fill="#111">20</text>
<line x1="420.70" y1="273.50" x2="420.70" y2="277.00" stroke="#111" stroke-width="1.3" stroke-linecap="butt"/>
<text transform="translate(420.70,287.70) rotate(.03) scale(1.03,1)" font-size="9.9" text-anchor="middle" fill="#111">40</text>
<line x1="474.90" y1="273.50" x2="474.90" y2="277.00" stroke="#111" stroke-width="1.3" stroke-linecap="butt"/>
<text transform="translate(474.90,287.70) rotate(.03) scale(1.03,1)" font-size="9.9" text-anchor="middle" fill="#111">60</text>
<text transform="translate(286.8,221) rotate(-90)" font-size="10.3" text-anchor="middle" fill="#111">Viability (%)</text>
<text transform="translate(365,300.5) rotate(.03) scale(1.035,1)" font-size="10.14" fill="#111" >Olaparib (µmol/L)</text>
<polyline points="312.30,170.50 320.77,199.50 329.24,218.00 346.18,233.75 380.05,248.50 447.80,251.25" fill="none" stroke="#111" stroke-width="2.3" stroke-linejoin="round"/>
<polyline points="312.30,170.50 320.77,206.25 329.24,220.00 346.18,240.50 380.05,252.50 447.80,266.25" fill="none" stroke="#111" stroke-width="2.2" stroke-dasharray="4.5 2.5" stroke-linejoin="round"/>
<line x1="447.80" y1="246.50" x2="447.80" y2="256.00" stroke="#111" stroke-width="1.9" stroke-linecap="butt"/>
<line x1="442.80" y1="246.50" x2="452.80" y2="246.50" stroke="#111" stroke-width="1.9" stroke-linecap="butt"/>
<line x1="442.80" y1="256.00" x2="452.80" y2="256.00" stroke="#111" stroke-width="1.9" stroke-linecap="butt"/>
<rect x="308.60" y="166.80" width="7.4" height="7.4" fill="#111" stroke="#111" stroke-width="1.1"/>
<rect x="317.07" y="195.80" width="7.4" height="7.4" fill="#111" stroke="#111" stroke-width="1.1"/>
<rect x="325.54" y="214.30" width="7.4" height="7.4" fill="#111" stroke="#111" stroke-width="1.1"/>
<rect x="342.48" y="230.05" width="7.4" height="7.4" fill="#111" stroke="#111" stroke-width="1.1"/>
<rect x="376.35" y="244.80" width="7.4" height="7.4" fill="#111" stroke="#111" stroke-width="1.1"/>
<rect x="444.10" y="247.55" width="7.4" height="7.4" fill="#111" stroke="#111" stroke-width="1.1"/>
<polygon points="320.77,201.74 316.27,209.94 325.27,209.94" fill="#7a7a7a" stroke="#111" stroke-width="1.5" stroke-linejoin="miter"/>
<polygon points="329.24,215.49 324.74,223.69 333.74,223.69" fill="#7a7a7a" stroke="#111" stroke-width="1.5" stroke-linejoin="miter"/>
<polygon points="346.18,235.99 341.68,244.19 350.68,244.19" fill="#7a7a7a" stroke="#111" stroke-width="1.5" stroke-linejoin="miter"/>
<polygon points="380.05,247.99 375.55,256.19 384.55,256.19" fill="#7a7a7a" stroke="#111" stroke-width="1.5" stroke-linejoin="miter"/>
<polygon points="447.80,261.74 443.30,269.94 452.30,269.94" fill="#7a7a7a" stroke="#111" stroke-width="1.5" stroke-linejoin="miter"/>
<text transform="translate(458.75,254.25) rotate(.03) scale(1.035,1)" font-size="10.05" fill="#111" >DU145</text>
<text transform="translate(458.75,269.5) rotate(.03) scale(1.035,1)" font-size="10.05" fill="#111" >EW8</text>
<line x1="312.60" y1="313.10" x2="312.60" y2="414.70" stroke="#111" stroke-width="1.3" stroke-linecap="butt"/>
<line x1="312.00" y1="414.10" x2="475.60" y2="414.10" stroke="#111" stroke-width="1.3" stroke-linecap="butt"/>
<line x1="307.40" y1="313.70" x2="312.60" y2="313.70" stroke="#111" stroke-width="1.3" stroke-linecap="butt"/>
<text transform="translate(305.60,317.15) rotate(.03) scale(1.03,1)" font-size="9.9" text-anchor="end" fill="#111">100</text>
<line x1="307.40" y1="414.10" x2="312.60" y2="414.10" stroke="#111" stroke-width="1.3" stroke-linecap="butt"/>
<text transform="translate(305.60,417.55) rotate(.03) scale(1.03,1)" font-size="9.9" text-anchor="end" fill="#111">10</text>
<line x1="309.40" y1="383.88" x2="312.60" y2="383.88" stroke="#111" stroke-width="1.2" stroke-linecap="butt"/>
<line x1="309.40" y1="366.20" x2="312.60" y2="366.20" stroke="#111" stroke-width="1.2" stroke-linecap="butt"/>
<line x1="309.40" y1="353.65" x2="312.60" y2="353.65" stroke="#111" stroke-width="1.2" stroke-linecap="butt"/>
<line x1="309.40" y1="343.92" x2="312.60" y2="343.92" stroke="#111" stroke-width="1.2" stroke-linecap="butt"/>
<line x1="309.40" y1="335.97" x2="312.60" y2="335.97" stroke="#111" stroke-width="1.2" stroke-linecap="butt"/>
<line x1="309.40" y1="329.25" x2="312.60" y2="329.25" stroke="#111" stroke-width="1.2" stroke-linecap="butt"/>
<line x1="309.40" y1="323.43" x2="312.60" y2="323.43" stroke="#111" stroke-width="1.2" stroke-linecap="butt"/>
<line x1="309.40" y1="318.29" x2="312.60" y2="318.29" stroke="#111" stroke-width="1.2" stroke-linecap="butt"/>
<line x1="312.60" y1="414.10" x2="312.60" y2="417.60" stroke="#111" stroke-width="1.3" stroke-linecap="butt"/>
<text transform="translate(312.60,427.90) rotate(.03) scale(1.03,1)" font-size="9.9" text-anchor="middle" fill="#111">0</text>
<line x1="366.80" y1="414.10" x2="366.80" y2="417.60" stroke="#111" stroke-width="1.3" stroke-linecap="butt"/>
<text transform="translate(366.80,427.90) rotate(.03) scale(1.03,1)" font-size="9.9" text-anchor="middle" fill="#111">20</text>
<line x1="421.00" y1="414.10" x2="421.00" y2="417.60" stroke="#111" stroke-width="1.3" stroke-linecap="butt"/>
<text transform="translate(421.00,427.90) rotate(.03) scale(1.03,1)" font-size="9.9" text-anchor="middle" fill="#111">40</text>
<line x1="475.20" y1="414.10" x2="475.20" y2="417.60" stroke="#111" stroke-width="1.3" stroke-linecap="butt"/>
<text transform="translate(475.20,427.90) rotate(.03) scale(1.03,1)" font-size="9.9" text-anchor="middle" fill="#111">60</text>
<text transform="translate(286.5,360.7) rotate(-90)" font-size="10.3" text-anchor="middle" fill="#111">Viability (%)</text>
<text transform="translate(355,441.6) rotate(.03) scale(1.035,1)" font-size="10.14" fill="#111" >Rucaparib (µmol/L)</text>
<polyline points="312.60,313.60 321.07,332.30 329.54,343.75 346.48,362.50 380.35,377.30 448.10,405.50" fill="none" stroke="#111" stroke-width="2.3" stroke-linejoin="round"/>
<polyline points="312.60,313.70 321.07,345.00 329.54,334.00 346.48,362.50 380.35,365.60 448.10,392.50" fill="none" stroke="#111" stroke-width="2.2" stroke-dasharray="4.5 2.5" stroke-linejoin="round"/>
<line x1="312.60" y1="307.00" x2="312.60" y2="319.50" stroke="#111" stroke-width="1.9" stroke-linecap="butt"/>
<line x1="307.60" y1="307.00" x2="317.60" y2="307.00" stroke="#111" stroke-width="1.9" stroke-linecap="butt"/>
<line x1="307.60" y1="319.50" x2="317.60" y2="319.50" stroke="#111" stroke-width="1.9" stroke-linecap="butt"/>
<line x1="321.07" y1="325.60" x2="321.07" y2="339.00" stroke="#111" stroke-width="1.9" stroke-linecap="butt"/>
<line x1="316.07" y1="325.60" x2="326.07" y2="325.60" stroke="#111" stroke-width="1.9" stroke-linecap="butt"/>
<line x1="316.07" y1="339.00" x2="326.07" y2="339.00" stroke="#111" stroke-width="1.9" stroke-linecap="butt"/>
<line x1="380.35" y1="377.00" x2="380.35" y2="385.75" stroke="#111" stroke-width="1.9" stroke-linecap="butt"/>
<line x1="375.35" y1="377.00" x2="385.35" y2="377.00" stroke="#111" stroke-width="1.9" stroke-linecap="butt"/>
<line x1="375.35" y1="385.75" x2="385.35" y2="385.75" stroke="#111" stroke-width="1.9" stroke-linecap="butt"/>
<line x1="448.10" y1="387.50" x2="448.10" y2="397.00" stroke="#111" stroke-width="1.9" stroke-linecap="butt"/>
<line x1="443.10" y1="387.50" x2="453.10" y2="387.50" stroke="#111" stroke-width="1.9" stroke-linecap="butt"/>
<line x1="443.10" y1="397.00" x2="453.10" y2="397.00" stroke="#111" stroke-width="1.9" stroke-linecap="butt"/>
<rect x="308.30" y="309.30" width="8.6" height="8.6" fill="#111" stroke="#111" stroke-width="1.1"/>
<rect x="317.47" y="328.70" width="7.2" height="7.2" fill="#111" stroke="#111" stroke-width="1.1"/>
<rect x="325.94" y="340.15" width="7.2" height="7.2" fill="#111" stroke="#111" stroke-width="1.1"/>
<rect x="342.88" y="358.90" width="7.2" height="7.2" fill="#111" stroke="#111" stroke-width="1.1"/>
<rect x="376.75" y="373.70" width="7.2" height="7.2" fill="#111" stroke="#111" stroke-width="1.1"/>
<rect x="444.50" y="401.90" width="7.2" height="7.2" fill="#111" stroke="#111" stroke-width="1.1"/>
<polygon points="312.60,309.19 308.80,317.39 316.40,317.39" fill="#7a7a7a" stroke="#111" stroke-width="0.9" stroke-linejoin="miter"/>
<polygon points="321.07,340.82 317.07,348.42 325.07,348.42" fill="#6a6a6a" stroke="#111" stroke-width="1.8" stroke-linejoin="miter"/>
<polygon points="329.54,329.16 324.84,337.96 334.24,337.96" fill="#7a7a7a" stroke="#111" stroke-width="1.5" stroke-linejoin="miter"/>
<polygon points="346.48,357.66 341.78,366.46 351.18,366.46" fill="#7a7a7a" stroke="#111" stroke-width="1.5" stroke-linejoin="miter"/>
<polygon points="380.35,360.76 375.65,369.56 385.05,369.56" fill="#7a7a7a" stroke="#111" stroke-width="1.5" stroke-linejoin="miter"/>
<polygon points="448.10,387.66 443.40,396.46 452.80,396.46" fill="#7a7a7a" stroke="#111" stroke-width="1.5" stroke-linejoin="miter"/>
<line x1="321.37" y1="343.00" x2="321.37" y2="349.60" stroke="#111" stroke-width="2" stroke-linecap="butt"/>
<line x1="316.37" y1="343.00" x2="326.37" y2="343.00" stroke="#111" stroke-width="2" stroke-linecap="butt"/>
<line x1="316.37" y1="349.60" x2="326.37" y2="349.60" stroke="#111" stroke-width="2" stroke-linecap="butt"/>
<text transform="translate(458.75,396.25) rotate(.03) scale(1.035,1)" font-size="10.05" fill="#111" >EW8</text>
<text transform="translate(458.75,409.5) rotate(.03) scale(1.035,1)" font-size="10.05" fill="#111" >DU145</text>
<rect x="35" y="473" width="204.5" height="32" fill="#f1f1f1"/>
<rect x="35" y="520.5" width="204.5" height="14.8" fill="#eeeeee"/>
<rect x="35" y="473" width="204.5" height="80.5" fill="none" stroke="#111" stroke-width="1.5"/>
<line x1="35.00" y1="505.00" x2="239.50" y2="505.00" stroke="#111" stroke-width="1.6" stroke-linecap="butt"/>
<line x1="102.00" y1="491.20" x2="239.50" y2="491.20" stroke="#111" stroke-width="1.2" stroke-linecap="butt"/>
<line x1="102.00" y1="473.00" x2="102.00" y2="553.50" stroke="#111" stroke-width="1.3" stroke-linecap="butt"/>
<line x1="167.50" y1="491.20" x2="167.50" y2="553.50" stroke="#111" stroke-width="1.3" stroke-linecap="butt"/>
<text transform="translate(70.0,494.5) rotate(.03) scale(1.035,1)" font-size="10.14" text-anchor="middle" fill="#111" >Drug</text>
<text transform="translate(172.75,485.5) rotate(.03) scale(1.035,1)" font-size="10.14" text-anchor="middle" fill="#111">IC<tspan font-size="7.6" dy="2.8" dx="1.3">90</tspan><tspan dy="-2.8"> (µmol/L)</tspan></text>
<text transform="translate(135,501.25) rotate(.03) scale(1.035,1)" font-size="10.14" text-anchor="middle" fill="#111" >Wild-type</text>
<text transform="translate(207.4,501.25) rotate(.03) scale(1.035,1)" font-size="10.14" text-anchor="middle" font-style="italic" fill="#111" >BRCA2tr/−</text>
<text transform="translate(70.0,516.75) rotate(.03) scale(1.035,1)" font-size="10.14" text-anchor="middle" fill="#111" >BMN 673</text>
<text transform="translate(135,516.75) rotate(.03) scale(1.035,1)" font-size="10.14" text-anchor="middle" fill="#111" >0.5</text>
<text transform="translate(196,516.75) rotate(.03) scale(1.035,1)" font-size="10.14" fill="#111" >0.006</text>
<text transform="translate(70.0,531.75) rotate(.03) scale(1.035,1)" font-size="10.14" text-anchor="middle" fill="#111" >Olaparib</text>
<text transform="translate(135,531.75) rotate(.03) scale(1.035,1)" font-size="10.14" text-anchor="middle" fill="#111" >4.6</text>
<text transform="translate(196,531.75) rotate(.03) scale(1.035,1)" font-size="10.14" fill="#111" >0.20</text>
<text transform="translate(70.0,547) rotate(.03) scale(1.035,1)" font-size="10.14" text-anchor="middle" fill="#111" >Rucaparib</text>
<text transform="translate(135,547) rotate(.03) scale(1.035,1)" font-size="10.14" text-anchor="middle" fill="#111" >3.1</text>
<text transform="translate(196,547) rotate(.03) scale(1.035,1)" font-size="10.14" fill="#111" >0.15</text>
<rect x="295" y="473" width="204.5" height="32" fill="#f1f1f1"/>
<rect x="295" y="520.5" width="204.5" height="14.8" fill="#eeeeee"/>
<rect x="295" y="473" width="204.5" height="80.5" fill="none" stroke="#111" stroke-width="1.5"/>
<line x1="295.00" y1="505.00" x2="499.50" y2="505.00" stroke="#111" stroke-width="1.6" stroke-linecap="butt"/>
<line x1="362.50" y1="491.20" x2="499.50" y2="491.20" stroke="#111" stroke-width="1.2" stroke-linecap="butt"/>
<line x1="362.50" y1="473.00" x2="362.50" y2="553.50" stroke="#111" stroke-width="1.3" stroke-linecap="butt"/>
<line x1="428.00" y1="491.20" x2="428.00" y2="553.50" stroke="#111" stroke-width="1.3" stroke-linecap="butt"/>
<text transform="translate(330.25,494.5) rotate(.03) scale(1.035,1)" font-size="10.14" text-anchor="middle" fill="#111" >Drug</text>
<text transform="translate(433.0,485.5) rotate(.03) scale(1.035,1)" font-size="10.14" text-anchor="middle" fill="#111">IC<tspan font-size="7.6" dy="2.8" dx="1.3">90</tspan><tspan dy="-2.8"> (µmol/L)</tspan></text>
<text transform="translate(393.4,501.25) rotate(.03) scale(1.035,1)" font-size="10.14" text-anchor="middle" fill="#111" >DU145</text>
<text transform="translate(463,501.25) rotate(.03) scale(1.035,1)" font-size="10.14" text-anchor="middle" fill="#111" >EW8</text>
<text transform="translate(330.25,516.75) rotate(.03) scale(1.035,1)" font-size="10.14" text-anchor="middle" fill="#111" >BMN 673</text>
<text transform="translate(391.25,516.75) rotate(.03) scale(1.035,1)" font-size="10.14" fill="#111" >0.5</text>
<text transform="translate(460,516.75) rotate(.03) scale(1.035,1)" font-size="10.14" fill="#111" >1.0</text>
<text transform="translate(330.25,531.75) rotate(.03) scale(1.035,1)" font-size="10.14" text-anchor="middle" fill="#111" >Olaparib</text>
<text transform="translate(392,531.75) rotate(.03) scale(1.035,1)" font-size="10.14" fill="#111" >5</text>
<text transform="translate(460.5,531.75) rotate(.03) scale(1.035,1)" font-size="10.14" fill="#111" >5</text>
<text transform="translate(330.25,547) rotate(.03) scale(1.035,1)" font-size="10.14" text-anchor="middle" fill="#111" >Rucaparib</text>
<text transform="translate(388,547) rotate(.03) scale(1.035,1)" font-size="10.14" fill="#111" >N/A</text>
<text transform="translate(456.25,547) rotate(.03) scale(1.035,1)" font-size="10.14" fill="#111" >N/A</text>
<line x1="60.00" y1="637.90" x2="188.00" y2="637.90" stroke="#111" stroke-width="1.45" stroke-dasharray="1.4 1.35" stroke-linecap="butt"/>
<line x1="60.00" y1="672.20" x2="216.50" y2="672.20" stroke="#111" stroke-width="1.45" stroke-dasharray="1.4 1.35" stroke-linecap="butt"/>
<line x1="60.00" y1="602.90" x2="60.00" y2="706.60" stroke="#111" stroke-width="1.3" stroke-linecap="butt"/>
<line x1="59.40" y1="706.00" x2="217.60" y2="706.00" stroke="#111" stroke-width="1.3" stroke-linecap="butt"/>
<line x1="54.80" y1="603.50" x2="60.00" y2="603.50" stroke="#111" stroke-width="1.3" stroke-linecap="butt"/>
<text transform="translate(53.00,606.95) rotate(.03) scale(1.05,1)" font-size="9.6" text-anchor="end" fill="#111">100</text>
<line x1="54.80" y1="637.90" x2="60.00" y2="637.90" stroke="#111" stroke-width="1.3" stroke-linecap="butt"/>
<text transform="translate(53.00,641.35) rotate(.03) scale(1.05,1)" font-size="9.6" text-anchor="end" fill="#111">10</text>
<line x1="54.80" y1="672.20" x2="60.00" y2="672.20" stroke="#111" stroke-width="1.3" stroke-linecap="butt"/>
<text transform="translate(53.00,675.65) rotate(.03) scale(1.05,1)" font-size="9.6" text-anchor="end" fill="#111">1</text>
<line x1="54.80" y1="706.00" x2="60.00" y2="706.00" stroke="#111" stroke-width="1.3" stroke-linecap="butt"/>
<text transform="translate(53.00,709.45) rotate(.03) scale(1.05,1)" font-size="9.6" text-anchor="end" fill="#111">0.1</text>
<line x1="56.80" y1="627.54" x2="60.00" y2="627.54" stroke="#111" stroke-width="1.2" stroke-linecap="butt"/>
<line x1="56.80" y1="621.49" x2="60.00" y2="621.49" stroke="#111" stroke-width="1.2" stroke-linecap="butt"/>
<line x1="56.80" y1="617.19" x2="60.00" y2="617.19" stroke="#111" stroke-width="1.2" stroke-linecap="butt"/>
<line x1="56.80" y1="613.86" x2="60.00" y2="613.86" stroke="#111" stroke-width="1.2" stroke-linecap="butt"/>
<line x1="56.80" y1="611.13" x2="60.00" y2="611.13" stroke="#111" stroke-width="1.2" stroke-linecap="butt"/>
<line x1="56.80" y1="608.83" x2="60.00" y2="608.83" stroke="#111" stroke-width="1.2" stroke-linecap="butt"/>
<line x1="56.80" y1="606.83" x2="60.00" y2="606.83" stroke="#111" stroke-width="1.2" stroke-linecap="butt"/>
<line x1="56.80" y1="605.07" x2="60.00" y2="605.07" stroke="#111" stroke-width="1.2" stroke-linecap="butt"/>
<line x1="56.80" y1="661.87" x2="60.00" y2="661.87" stroke="#111" stroke-width="1.2" stroke-linecap="butt"/>
<line x1="56.80" y1="655.83" x2="60.00" y2="655.83" stroke="#111" stroke-width="1.2" stroke-linecap="butt"/>
<line x1="56.80" y1="651.55" x2="60.00" y2="651.55" stroke="#111" stroke-width="1.2" stroke-linecap="butt"/>
<line x1="56.80" y1="648.23" x2="60.00" y2="648.23" stroke="#111" stroke-width="1.2" stroke-linecap="butt"/>
<line x1="56.80" y1="645.51" x2="60.00" y2="645.51" stroke="#111" stroke-width="1.2" stroke-linecap="butt"/>
<line x1="56.80" y1="643.21" x2="60.00" y2="643.21" stroke="#111" stroke-width="1.2" stroke-linecap="butt"/>
<line x1="56.80" y1="641.22" x2="60.00" y2="641.22" stroke="#111" stroke-width="1.2" stroke-linecap="butt"/>
<line x1="56.80" y1="639.47" x2="60.00" y2="639.47" stroke="#111" stroke-width="1.2" stroke-linecap="butt"/>
<line x1="56.80" y1="695.83" x2="60.00" y2="695.83" stroke="#111" stroke-width="1.2" stroke-linecap="butt"/>
<line x1="56.80" y1="689.87" x2="60.00" y2="689.87" stroke="#111" stroke-width="1.2" stroke-linecap="butt"/>
<line x1="56.80" y1="685.65" x2="60.00" y2="685.65" stroke="#111" stroke-width="1.2" stroke-linecap="butt"/>
<line x1="56.80" y1="682.37" x2="60.00" y2="682.37" stroke="#111" stroke-width="1.2" stroke-linecap="butt"/>
<line x1="56.80" y1="679.70" x2="60.00" y2="679.70" stroke="#111" stroke-width="1.2" stroke-linecap="butt"/>
<line x1="56.80" y1="677.44" x2="60.00" y2="677.44" stroke="#111" stroke-width="1.2" stroke-linecap="butt"/>
<line x1="56.80" y1="675.48" x2="60.00" y2="675.48" stroke="#111" stroke-width="1.2" stroke-linecap="butt"/>
<line x1="56.80" y1="673.75" x2="60.00" y2="673.75" stroke="#111" stroke-width="1.2" stroke-linecap="butt"/>
<line x1="60.00" y1="706.00" x2="60.00" y2="709.50" stroke="#111" stroke-width="1.3" stroke-linecap="butt"/>
<text transform="translate(60.00,719.00) rotate(.03) scale(1.05,1)" font-size="9.6" text-anchor="middle" fill="#111">0</text>
<line x1="112.40" y1="706.00" x2="112.40" y2="709.50" stroke="#111" stroke-width="1.3" stroke-linecap="butt"/>
<text transform="translate(112.40,719.00) rotate(.03) scale(1.05,1)" font-size="9.6" text-anchor="middle" fill="#111">20</text>
<line x1="164.80" y1="706.00" x2="164.80" y2="709.50" stroke="#111" stroke-width="1.3" stroke-linecap="butt"/>
<text transform="translate(164.80,719.00) rotate(.03) scale(1.05,1)" font-size="9.6" text-anchor="middle" fill="#111">40</text>
<line x1="217.20" y1="706.00" x2="217.20" y2="709.50" stroke="#111" stroke-width="1.3" stroke-linecap="butt"/>
<text transform="translate(217.20,719.00) rotate(.03) scale(1.05,1)" font-size="9.6" text-anchor="middle" fill="#111">60</text>
<text transform="translate(34,658.5) rotate(-90)" font-size="10.3" text-anchor="middle" fill="#111">Viability (%)</text>
<text transform="translate(83,733.8) rotate(.03) scale(1.035,1)" font-size="10.14" fill="#111" >Drug concentration (µmol/L)</text>
<polyline points="60.00,603.25 61.02,603.00 62.04,603.00 64.09,603.50 68.19,603.50 76.38,604.00 92.75,605.00 125.50,607.50 191.00,617.50" fill="none" stroke="#111" stroke-width="2.2" stroke-linejoin="round"/>
<polyline points="60.00,603.25 61.02,603.50 62.04,604.00 64.09,604.50 68.19,605.00 76.38,606.00 92.75,609.00 125.50,617.00 191.00,633.75" fill="none" stroke="#111" stroke-width="2.2" stroke-linejoin="round"/>
<polyline points="60.00,603.25 61.02,604.00 62.04,604.50 64.09,605.00 68.19,606.00 76.38,607.00 92.75,610.00 125.50,624.50 191.00,690.00" fill="none" stroke="#111" stroke-width="2.2" stroke-linejoin="round"/>
<polygon points="60.00,607.43 56.20,599.83 63.80,599.83" fill="#fff" stroke="#111" stroke-width="1.9" stroke-linejoin="miter"/>
<rect x="56.10" y="599.35" width="7.8" height="7.8" fill="#fff" stroke="#111" stroke-width="2"/>
<polygon points="60.00,599.18 56.50,606.58 63.50,606.58" fill="#fff" stroke="#111" stroke-width="1.9" stroke-linejoin="miter"/>
<polygon points="61.02,608.18 57.22,600.58 64.82,600.58" fill="#fff" stroke="#111" stroke-width="1.9" stroke-linejoin="miter"/>
<rect x="57.12" y="599.60" width="7.8" height="7.8" fill="#fff" stroke="#111" stroke-width="2"/>
<polygon points="61.02,598.93 57.52,606.33 64.52,606.33" fill="#fff" stroke="#111" stroke-width="1.9" stroke-linejoin="miter"/>
<polygon points="62.04,608.68 58.24,601.08 65.84,601.08" fill="#fff" stroke="#111" stroke-width="1.9" stroke-linejoin="miter"/>
<rect x="58.14" y="600.10" width="7.8" height="7.8" fill="#fff" stroke="#111" stroke-width="2"/>
<polygon points="62.04,598.93 58.54,606.33 65.54,606.33" fill="#fff" stroke="#111" stroke-width="1.9" stroke-linejoin="miter"/>
<polygon points="64.09,609.18 60.29,601.58 67.89,601.58" fill="#fff" stroke="#111" stroke-width="1.9" stroke-linejoin="miter"/>
<rect x="60.19" y="600.60" width="7.8" height="7.8" fill="#fff" stroke="#111" stroke-width="2"/>
<polygon points="64.09,599.43 60.59,606.83 67.59,606.83" fill="#fff" stroke="#111" stroke-width="1.9" stroke-linejoin="miter"/>
<polygon points="68.19,610.18 64.39,602.58 71.99,602.58" fill="#fff" stroke="#111" stroke-width="1.9" stroke-linejoin="miter"/>
<rect x="64.29" y="601.10" width="7.8" height="7.8" fill="#fff" stroke="#111" stroke-width="2"/>
<polygon points="68.19,599.43 64.69,606.83 71.69,606.83" fill="#fff" stroke="#111" stroke-width="1.9" stroke-linejoin="miter"/>
<polygon points="76.38,611.18 72.58,603.58 80.17,603.58" fill="#fff" stroke="#111" stroke-width="1.9" stroke-linejoin="miter"/>
<rect x="72.47" y="602.10" width="7.8" height="7.8" fill="#fff" stroke="#111" stroke-width="2"/>
<polygon points="76.38,599.93 72.88,607.33 79.88,607.33" fill="#fff" stroke="#111" stroke-width="1.9" stroke-linejoin="miter"/>
<polygon points="92.75,614.18 88.95,606.58 96.55,606.58" fill="#fff" stroke="#111" stroke-width="1.9" stroke-linejoin="miter"/>
<rect x="88.85" y="605.10" width="7.8" height="7.8" fill="#fff" stroke="#111" stroke-width="2"/>
<polygon points="92.75,600.93 89.25,608.33 96.25,608.33" fill="#fff" stroke="#111" stroke-width="1.9" stroke-linejoin="miter"/>
<polygon points="125.50,628.68 121.70,621.08 129.30,621.08" fill="#fff" stroke="#111" stroke-width="1.9" stroke-linejoin="miter"/>
<rect x="121.60" y="613.10" width="7.8" height="7.8" fill="#fff" stroke="#111" stroke-width="2"/>
<polygon points="125.50,603.43 122.00,610.83 129.00,610.83" fill="#fff" stroke="#111" stroke-width="1.9" stroke-linejoin="miter"/>
<polygon points="191.00,694.18 187.20,686.58 194.80,686.58" fill="#fff" stroke="#111" stroke-width="1.9" stroke-linejoin="miter"/>
<rect x="187.10" y="629.85" width="7.8" height="7.8" fill="#fff" stroke="#111" stroke-width="2"/>
<polygon points="191.00,613.43 187.50,620.83 194.50,620.83" fill="#fff" stroke="#111" stroke-width="1.9" stroke-linejoin="miter"/>
<text transform="translate(100,588.75) rotate(.03) scale(1.035,1)" font-size="10.05" fill="#111">DT40 (<tspan font-style="italic">PARP1</tspan><tspan font-size="6.2" dy="-3.3" fill="#666" stroke="none">−/−</tspan><tspan dy="3.3">)</tspan></text>
<text transform="translate(199.25,620.75) rotate(.03) scale(1.035,1)" font-size="10.05" fill="#111" >BMN 673</text>
<text transform="translate(199.25,638) rotate(.03) scale(1.035,1)" font-size="10.05" fill="#111" >Olaparib</text>
<text transform="translate(199.25,695.75) rotate(.03) scale(1.035,1)" font-size="10.05" fill="#111" >Rucaparib</text>
<line x1="301.00" y1="633.00" x2="471.00" y2="633.00" stroke="#111" stroke-width="1.45" stroke-dasharray="1.6 1.6" stroke-linecap="butt"/>
<line x1="301.00" y1="601.50" x2="301.00" y2="707.30" stroke="#111" stroke-width="1.3" stroke-linecap="butt"/>
<line x1="300.40" y1="706.70" x2="472.10" y2="706.70" stroke="#111" stroke-width="1.3" stroke-linecap="butt"/>
<line x1="295.80" y1="602.10" x2="301.00" y2="602.10" stroke="#111" stroke-width="1.3" stroke-linecap="butt"/>
<text transform="translate(294.00,605.55) rotate(.03) scale(1.05,1)" font-size="9.6" text-anchor="end" fill="#111">100</text>
<line x1="295.80" y1="706.70" x2="301.00" y2="706.70" stroke="#111" stroke-width="1.3" stroke-linecap="butt"/>
<text transform="translate(294.00,710.15) rotate(.03) scale(1.05,1)" font-size="9.6" text-anchor="end" fill="#111">10</text>
<line x1="297.80" y1="675.21" x2="301.00" y2="675.21" stroke="#111" stroke-width="1.2" stroke-linecap="butt"/>
<line x1="297.80" y1="656.79" x2="301.00" y2="656.79" stroke="#111" stroke-width="1.2" stroke-linecap="butt"/>
<line x1="297.80" y1="643.72" x2="301.00" y2="643.72" stroke="#111" stroke-width="1.2" stroke-linecap="butt"/>
<line x1="297.80" y1="633.59" x2="301.00" y2="633.59" stroke="#111" stroke-width="1.2" stroke-linecap="butt"/>
<line x1="297.80" y1="625.31" x2="301.00" y2="625.31" stroke="#111" stroke-width="1.2" stroke-linecap="butt"/>
<line x1="297.80" y1="618.30" x2="301.00" y2="618.30" stroke="#111" stroke-width="1.2" stroke-linecap="butt"/>
<line x1="297.80" y1="612.24" x2="301.00" y2="612.24" stroke="#111" stroke-width="1.2" stroke-linecap="butt"/>
<line x1="297.80" y1="606.89" x2="301.00" y2="606.89" stroke="#111" stroke-width="1.2" stroke-linecap="butt"/>
<line x1="301.00" y1="706.70" x2="301.00" y2="710.20" stroke="#111" stroke-width="1.3" stroke-linecap="butt"/>
<text transform="translate(301.00,719.30) rotate(.03) scale(1.05,1)" font-size="9.6" text-anchor="middle" fill="#111">0</text>
<line x1="357.84" y1="706.70" x2="357.84" y2="710.20" stroke="#111" stroke-width="1.3" stroke-linecap="butt"/>
<text transform="translate(357.84,719.30) rotate(.03) scale(1.05,1)" font-size="9.6" text-anchor="middle" fill="#111">20</text>
<line x1="414.68" y1="706.70" x2="414.68" y2="710.20" stroke="#111" stroke-width="1.3" stroke-linecap="butt"/>
<text transform="translate(414.68,719.30) rotate(.03) scale(1.05,1)" font-size="9.6" text-anchor="middle" fill="#111">40</text>
<line x1="471.52" y1="706.70" x2="471.52" y2="710.20" stroke="#111" stroke-width="1.3" stroke-linecap="butt"/>
<text transform="translate(471.52,719.30) rotate(.03) scale(1.05,1)" font-size="9.6" text-anchor="middle" fill="#111">60</text>
<text transform="translate(281,657.7) rotate(-90)" font-size="10.3" text-anchor="middle" fill="#111">Viability (%)</text>
<text transform="translate(323.5,733.9) rotate(.03) scale(1.035,1)" font-size="10.14" fill="#111" >Drug concentration (µmol/L)</text>
<polyline points="301.00,602.00 302.11,599.00 303.22,597.00 305.43,596.00 309.88,597.00 318.76,597.00 336.52,599.00 372.05,604.00 443.10,608.00" fill="none" stroke="#111" stroke-width="2.5" stroke-linejoin="round"/>
<polyline points="301.00,602.00 302.11,598.00 303.22,596.00 305.43,594.00 309.88,598.00 318.76,597.50 336.52,600.00 372.05,603.50 443.10,613.00" fill="none" stroke="#111" stroke-width="2.5" stroke-linejoin="round"/>
<polyline points="301.00,602.00 302.11,600.00 303.22,598.00 305.43,597.00 309.88,599.00 318.76,598.50 336.52,601.00 372.05,607.00 443.10,632.50" fill="none" stroke="#111" stroke-width="2.5" stroke-linejoin="round"/>
<rect x="296.50" y="597.50" width="9" height="9" fill="#fff" stroke="#111" stroke-width="2.1"/>
<polygon points="301.00,597.05 296.00,606.05 306.00,606.05" fill="#fff" stroke="#111" stroke-width="1.9" stroke-linejoin="miter"/>
<polygon points="301.00,606.67 296.25,598.17 305.75,598.17" fill="#fff" stroke="#111" stroke-width="1.9" stroke-linejoin="miter"/>
<rect x="297.61" y="593.50" width="9" height="9" fill="#fff" stroke="#111" stroke-width="2.1"/>
<polygon points="302.11,594.05 297.11,603.05 307.11,603.05" fill="#fff" stroke="#111" stroke-width="1.9" stroke-linejoin="miter"/>
<polygon points="302.11,604.67 297.36,596.17 306.86,596.17" fill="#fff" stroke="#111" stroke-width="1.9" stroke-linejoin="miter"/>
<rect x="298.72" y="591.50" width="9" height="9" fill="#fff" stroke="#111" stroke-width="2.1"/>
<polygon points="303.22,592.05 298.22,601.05 308.22,601.05" fill="#fff" stroke="#111" stroke-width="1.9" stroke-linejoin="miter"/>
<polygon points="303.22,602.67 298.47,594.17 307.97,594.17" fill="#fff" stroke="#111" stroke-width="1.9" stroke-linejoin="miter"/>
<rect x="300.93" y="589.50" width="9" height="9" fill="#fff" stroke="#111" stroke-width="2.1"/>
<polygon points="305.43,591.05 300.43,600.05 310.43,600.05" fill="#fff" stroke="#111" stroke-width="1.9" stroke-linejoin="miter"/>
<polygon points="305.43,601.67 300.68,593.17 310.18,593.17" fill="#fff" stroke="#111" stroke-width="1.9" stroke-linejoin="miter"/>
<rect x="305.38" y="593.50" width="9" height="9" fill="#fff" stroke="#111" stroke-width="2.1"/>
<polygon points="309.88,592.05 304.88,601.05 314.88,601.05" fill="#fff" stroke="#111" stroke-width="1.9" stroke-linejoin="miter"/>
<polygon points="309.88,603.67 305.13,595.17 314.63,595.17" fill="#fff" stroke="#111" stroke-width="1.9" stroke-linejoin="miter"/>
<rect x="314.26" y="593.00" width="9" height="9" fill="#fff" stroke="#111" stroke-width="2.1"/>
<polygon points="318.76,592.05 313.76,601.05 323.76,601.05" fill="#fff" stroke="#111" stroke-width="1.9" stroke-linejoin="miter"/>
<polygon points="318.76,603.17 314.01,594.67 323.51,594.67" fill="#fff" stroke="#111" stroke-width="1.9" stroke-linejoin="miter"/>
<rect x="332.02" y="595.50" width="9" height="9" fill="#fff" stroke="#111" stroke-width="2.1"/>
<polygon points="336.52,594.05 331.52,603.05 341.52,603.05" fill="#fff" stroke="#111" stroke-width="1.9" stroke-linejoin="miter"/>
<polygon points="336.52,605.67 331.77,597.17 341.27,597.17" fill="#fff" stroke="#111" stroke-width="1.9" stroke-linejoin="miter"/>
<rect x="367.55" y="599.00" width="9" height="9" fill="#fff" stroke="#111" stroke-width="2.1"/>
<polygon points="372.05,599.05 367.05,608.05 377.05,608.05" fill="#fff" stroke="#111" stroke-width="1.9" stroke-linejoin="miter"/>
<polygon points="372.05,611.67 367.30,603.17 376.80,603.17" fill="#fff" stroke="#111" stroke-width="1.9" stroke-linejoin="miter"/>
<rect x="438.60" y="608.50" width="9" height="9" fill="#fff" stroke="#111" stroke-width="2.1"/>
<polygon points="443.10,603.05 438.10,612.05 448.10,612.05" fill="#fff" stroke="#111" stroke-width="1.9" stroke-linejoin="miter"/>
<polygon points="443.10,637.17 438.35,628.67 447.85,628.67" fill="#fff" stroke="#111" stroke-width="1.9" stroke-linejoin="miter"/>
<text transform="translate(353.6,590.5) rotate(.03) scale(1.035,1)" font-size="9.76" fill="#111" >MDA-MB231</text>
<text transform="translate(457.5,607.5) rotate(.03) scale(1.035,1)" font-size="10.05" fill="#111" >BMN 673</text>
<text transform="translate(457.5,619.25) rotate(.03) scale(1.035,1)" font-size="10.05" fill="#111" >Olaparib</text>
<text transform="translate(448,649.5) rotate(.03) scale(1.035,1)" font-size="10.05" fill="#111" >Rucaparib</text>
</svg>
</body></html>
